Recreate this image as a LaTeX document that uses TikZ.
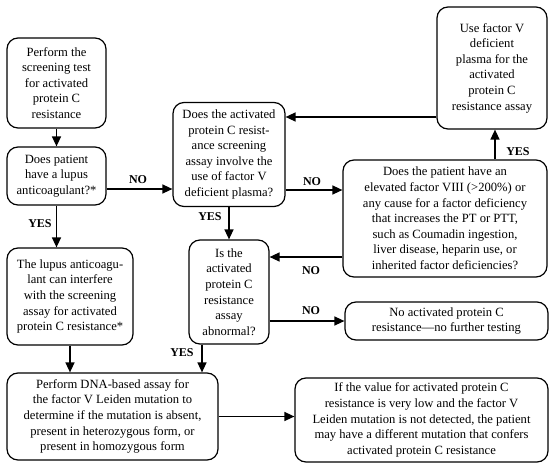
\documentclass[tikz,border=0pt]{standalone}
\usepackage{fontspec}
\setmainfont{Liberation Serif}
\usetikzlibrary{arrows.meta}
\newcommand{\drawstep}{\node[draw, rounded corners=11pt, line width=1.2pt, align=center, inner sep=2pt, font=\fontsize{12.6}{15.6}\selectfont]}
\newcommand{\arrflow}{\draw[line width=1.4pt, -{Triangle[length=10pt,width=9pt]}]}
\newcommand{\answer}{\node[font=\fontsize{12}{13}\selectfont\bfseries]}

\begin{document}
\begin{tikzpicture}[x=1pt, y=-1pt]
\useasboundingbox (0,0) rectangle (550,469);
%boxes of the flow chart
\drawstep[minimum width=99pt, minimum height=90pt] (screen) at (56.5,83) {Perform the\\screening test\\for activated\\protein C\\resistance};
\drawstep[minimum width=99pt, minimum height=58pt] (lupus) at (56.5,176) {Does patient\\have a lupus\\anticoagulant?*};
\drawstep[minimum width=112pt, minimum height=104pt] (defic) at (229,154.5) {Does the activated\\protein C resist-\\ance screening\\assay involve the\\use of factor V\\deficient plasma?};
\drawstep[minimum width=110pt, minimum height=122pt] (usefv) at (492,68) {Use factor V\\deficient\\plasma for the\\activated\\protein C\\resistance assay};
\drawstep[minimum width=204pt, minimum height=117pt] (elev) at (445,218.5) {Does the patient have an\\elevated factor VIII (>200\%) or\\any cause for a factor deficiency\\that increases the PT or PTT,\\such as Coumadin ingestion,\\liver disease, heparin use, or\\inherited factor deficiencies?};
\drawstep[minimum width=80pt, minimum height=104pt] (abn) at (229,292) {Is the\\activated\\protein C\\resistance\\assay\\abnormal?};
\drawstep[minimum width=203pt, minimum height=38pt] (nores) at (446.5,321) {No activated protein C\\resistance---no further testing};
\drawstep[minimum width=126pt, minimum height=97pt] (interf) at (70,296.5) {The lupus anticoagu-\\lant can interfere\\with the screening\\assay for activated\\protein C resistance*};
\drawstep[minimum width=211pt, minimum height=87pt] (dna) at (112.5,416.5) {Perform DNA-based assay for\\the factor V Leiden mutation to\\determine if the mutation is absent,\\present in heterozygous form, or\\present in homozygous form};
\drawstep[minimum width=253pt, minimum height=84pt] (other) at (421.5,420) {If the value for activated protein C\\resistance is very low and the factor V\\Leiden mutation is not detected, the patient\\may have a different mutation that confers\\activated protein C resistance};

%start points of the connectors
\coordinate (lupusNo) at ([yshift=-13pt]lupus.east);
\coordinate (deficNo) at ([yshift=-35.5pt]defic.east);
\coordinate (usefvOut) at ([yshift=-49pt]usefv.west);
\coordinate (elevYes) at ([xshift=50pt]elev.north);
\coordinate (elevNo) at ([yshift=-38.5pt]elev.west);
\coordinate (abnYes) at ([xshift=-27pt]abn.south);

\arrflow (screen) -- (lupus);
\arrflow (lupusNo) -- (lupusNo -| defic.west);
\answer (noA) at (138,180) {NO};
\arrflow (lupus.south) -- (lupus.south |- interf.north);
\answer (yesA) at (40,224) {YES};
\arrflow (deficNo) -- (deficNo -| elev.west);
\answer (noB) at (312,182) {NO};
\arrflow (usefvOut) -- (usefvOut -| defic.east);
\arrflow (elevYes) -- (elevYes |- usefv.south);
\answer (yesB) at (518,152) {YES};
\arrflow (defic.south) -- (abn.north);
\answer (yesC) at (210,217) {YES};
\arrflow (elevNo) -- (elevNo -| abn.east);
\answer (noC) at (311,271) {NO};
\arrflow (abn.east |- nores.west) -- (nores.west);
\answer (noD) at (311,311) {NO};
\arrflow (interf.south) -- (interf.south |- dna.north);
\arrflow (abnYes) -- (abnYes |- dna.north);
\answer (yesD) at (182,353) {YES};
\arrflow (dna.east) -- (dna.east -| other.west);
\end{tikzpicture}
\end{document}
